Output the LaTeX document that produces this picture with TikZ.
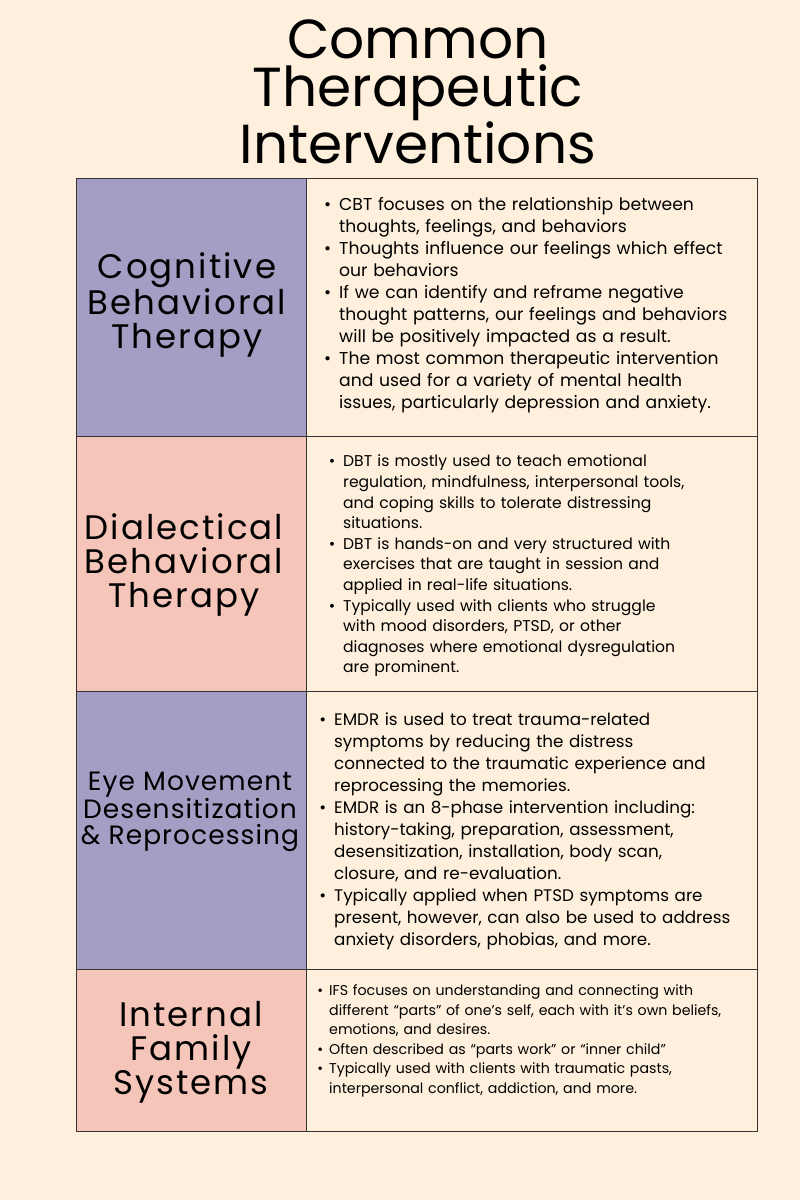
\documentclass[tikz,border=0pt]{standalone}
\usepackage{fontspec}
\setmainfont{Poppins}
\usepackage{enumitem}
\definecolor{bg}{HTML}{FEF0DC}
\definecolor{purp}{HTML}{A49DC4}
\definecolor{pinkc}{HTML}{F6C5B9}
\newcommand{\fs}[2]{\fontsize{#1}{#2}\selectfont}
\begin{document}
\begin{tikzpicture}[x=1pt,y=-1pt,
 lab/.style={align=center,text=black},
 body/.style={anchor=north west,inner sep=0pt,text width=470pt,align=left},
 cell/.style={draw=black!80,line width=0.8pt}]
\useasboundingbox (0,0) rectangle (800,1200);
\fill[bg] (0,0) rectangle (800,1200);
\node[lab,font=\fs{55}{47.5}] (title) at (418,92) {Common\\Therapeutic\\Interventions};
% cells
\filldraw[cell,fill=purp] (76,178) rectangle (306,436);
\filldraw[cell,fill=pinkc] (76,436) rectangle (306,691);
\filldraw[cell,fill=purp] (76,691) rectangle (306,969);
\filldraw[cell,fill=pinkc] (76,969) rectangle (306,1131);
\draw[cell] (306,178) rectangle (757,436);
\draw[cell] (306,436) rectangle (757,691);
\draw[cell] (306,691) rectangle (757,969);
\draw[cell] (306,969) rectangle (757,1131);
% labels
\node[lab,font=\fs{34}{34}\addfontfeature{LetterSpace=6}] (l1) at (187,305) {Cognitive\\Behavioral\\Therapy};
\node[lab,font=\fs{34}{34}\addfontfeature{LetterSpace=6}] (l2) at (184,565) {Dialectical\\Behavioral\\Therapy};
\node[lab,font=\fs{26.5}{26}\addfontfeature{LetterSpace=4}] (l3) at (190,812) {Eye Movement\\Desensitization\\\& Reprocessing};
\node[lab,font=\fs{34}{34}\addfontfeature{LetterSpace=6}] (l4) at (191,1052) {Internal\\Family\\Systems};
% bodies
\node[body,font=\fs{17.2}{22}] (b1) at (316,188) {%
\begin{itemize}[leftmargin=23pt,labelsep=8pt,itemsep=0pt,topsep=0pt,parsep=0pt]
\item CBT focuses on the relationship between\newline thoughts, feelings, and behaviors
\item Thoughts influence our feelings which effect\newline our behaviors
\item If we can identify and reframe negative\newline thought patterns, our feelings and behaviors\newline will be positively impacted as a result.
\item The most common therapeutic intervention\newline and used for a variety of mental health\newline issues, particularly depression and anxiety.
\end{itemize}};
\node[body,font=\fs{15.6}{20.6}] (b2) at (320,446) {%
\begin{itemize}[leftmargin=23pt,labelsep=8pt,itemsep=0pt,topsep=0pt,parsep=0pt]
\item DBT is mostly used to teach emotional\newline regulation, mindfulness, interpersonal tools,\newline and coping skills to tolerate distressing\newline situations.
\item DBT is hands-on and very structured with\newline exercises that are taught in session and\newline applied in real-life situations.
\item Typically used with clients who struggle\newline with mood disorders, PTSD, or other\newline diagnoses where emotional dysregulation\newline are prominent.
\end{itemize}};
\node[body,font=\fs{16.75}{22}] (b3) at (310,703) {%
\begin{itemize}[leftmargin=24pt,labelsep=8pt,itemsep=0pt,topsep=0pt,parsep=0pt]
\item EMDR is used to treat trauma-related\newline symptoms by reducing the distress\newline connected to the traumatic experience and\newline reprocessing the memories.
\item EMDR is an 8-phase intervention including:\newline history-taking, preparation, assessment,\newline desensitization, installation, body scan,\newline closure, and re-evaluation.
\item Typically applied when PTSD symptoms are\newline present, however, can also be used to address\newline anxiety disorders, phobias, and more.
\end{itemize}};
\node[body,font=\fs{14.2}{19.5}] (b4) at (313,976) {%
\begin{itemize}[leftmargin=16pt,labelsep=6pt,itemsep=0pt,topsep=0pt,parsep=0pt]
\item IFS focuses on understanding and connecting with\newline different “parts” of one’s self, each with it’s own beliefs,\newline emotions, and desires.
\item Often described as “parts work” or “inner child”
\item Typically used with clients with traumatic pasts,\newline interpersonal conflict, addiction, and more.
\end{itemize}};
\end{tikzpicture}
\end{document}
